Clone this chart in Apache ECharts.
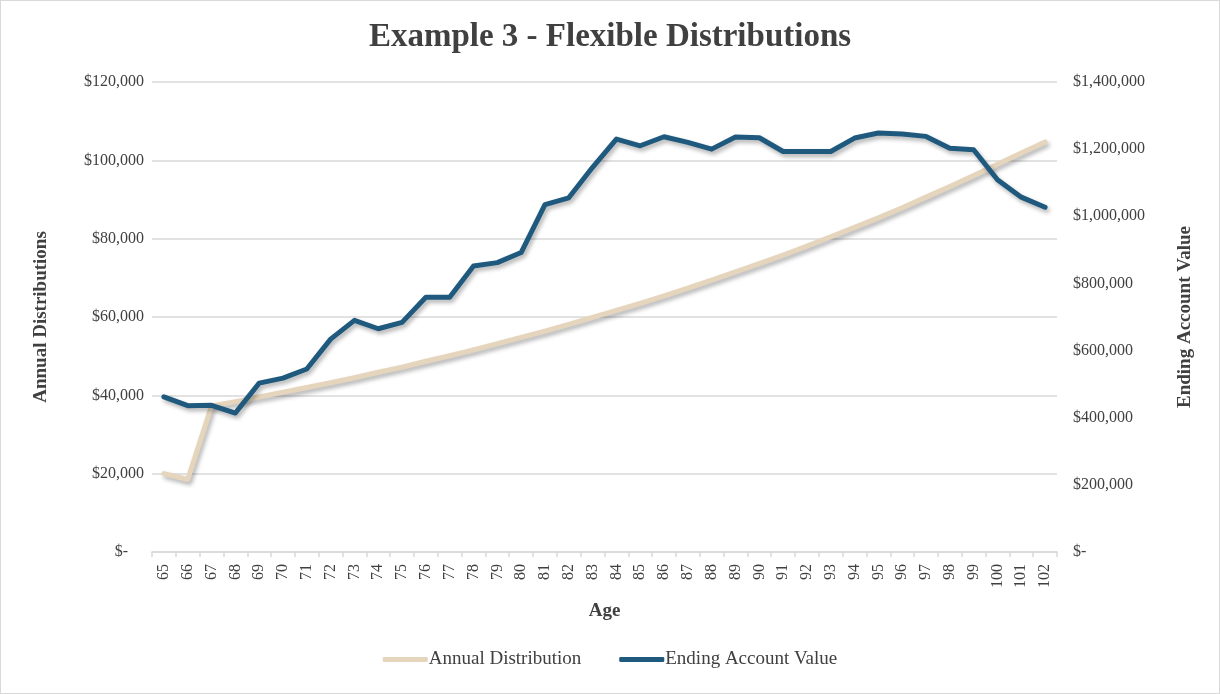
<!DOCTYPE html>
<html>
<head>
<meta charset="utf-8">
<script src="https://cdn.jsdelivr.net/npm/echarts@6/dist/echarts.min.js"></script>
<style>
html,body{margin:0;padding:0;background:#fff;}
#chart{width:1220px;height:694px;box-sizing:border-box;border:1px solid #d9d9d9;}
</style>
</head>
<body>
<div id="chart"></div>
<script>
const ages = ['65','66','67','68','69','70','71','72','73','74','75','76','77','78','79','80','81','82','83','84','85','86','87','88','89','90','91','92','93','94','95','96','97','98','99','100','101','102'];
const annualDistribution = [20000,18500,37300,38400,39600,40800,42000,43200,44500,45900,47200,48700,50100,51600,53200,54800,56400,58100,59900,61700,63500,65400,67400,69400,71500,73600,75800,78100,80500,82900,85300,87900,90600,93300,96100,99000,101900,104700];
const endingAccountValue = [462000,436000,437000,414000,503000,518000,545000,634000,690000,665000,684000,759000,759000,852000,862000,892000,1035000,1055000,1146000,1230000,1210000,1237000,1220000,1200000,1236000,1234000,1193000,1193000,1193000,1233000,1248000,1245000,1238000,1203000,1198000,1109000,1057000,1027000];
const leftTicks = [0,20000,40000,60000,80000,100000,120000];
const rightTicks = [0,200000,400000,600000,800000,1000000,1200000,1400000];

function money(v){ return v === 0 ? '$-    ' : '$' + v.toLocaleString('en-US'); }

const serif = '"Liberation Serif", "DejaVu Serif", serif';
const txt = '#404040';
const chart = echarts.init(document.getElementById('chart'));
chart.setOption({
  animation: false,
  title: {
    text: 'Example 3 - Flexible Distributions',
    left: 'center', top: 15,
    textStyle: {fontFamily: serif, fontSize: 33, fontWeight: 'bold', color: txt}
  },
  legend: {
    bottom: 19, left: 'center',
    itemWidth: 45, itemHeight: 5, itemGap: 38,
    icon: 'roundRect',
    textStyle: {fontFamily: serif, fontSize: 19, color: txt, padding: [0,0,0,-4]},
    data: ['Annual Distribution', 'Ending Account Value']
  },
  grid: {left: 151, right: 162, top: 81, bottom: 141, containLabel: false},
  xAxis: {
    type: 'category', data: ages, boundaryGap: true,
    name: 'Age', nameLocation: 'middle', nameGap: 50,
    nameTextStyle: {fontFamily: serif, fontSize: 19, fontWeight: 'bold', color: txt},
    axisLine: {lineStyle: {color: '#d9d9d9', width: 1.5}},
    axisTick: {show: true, alignWithLabel: false, length: 5, lineStyle: {color: '#d9d9d9', width: 1.5}},
    axisLabel: {rotate: 90, interval: 0, fontFamily: serif, fontSize: 16, color: txt, margin: 12}
  },
  yAxis: [{
    type: 'value', min: 0, max: 120000, interval: 20000,
    name: 'Annual Distributions', nameLocation: 'middle', nameGap: 101, nameRotate: 90,
    nameTextStyle: {fontFamily: serif, fontSize: 19, fontWeight: 'bold', color: txt},
    axisLine: {show: false}, axisTick: {show: false},
    axisLabel: {formatter: money, fontFamily: serif, fontSize: 16, color: txt, margin: 8},
    splitLine: {lineStyle: {color: '#d9d9d9', width: 1.5}}
  }, {
    type: 'value', min: 0, max: 1400000, interval: 200000, position: 'right',
    name: 'Ending Account Value', nameLocation: 'middle', nameGap: 119, nameRotate: 90,
    nameTextStyle: {fontFamily: serif, fontSize: 19, fontWeight: 'bold', color: txt},
    axisLine: {show: false}, axisTick: {show: false},
    axisLabel: {formatter: v => v === 0 ? '$-' : '$' + v.toLocaleString('en-US'), fontFamily: serif, fontSize: 16, color: txt, margin: 16},
    splitLine: {show: false}
  }],
  series: [{
    name: 'Annual Distribution', type: 'line', yAxisIndex: 0,
    data: annualDistribution, showSymbol: false, symbol: 'none',
    itemStyle: {color: '#E6D5BD'},
    lineStyle: {color: '#E6D5BD', width: 5, cap: 'round', join: 'round',
      shadowColor: 'rgba(0,0,0,0.3)', shadowBlur: 4, shadowOffsetX: 2, shadowOffsetY: 3}
  }, {
    name: 'Ending Account Value', type: 'line', yAxisIndex: 1,
    data: endingAccountValue, showSymbol: false, symbol: 'none',
    itemStyle: {color: '#1F5A7E'},
    lineStyle: {color: '#1F5A7E', width: 5, cap: 'round', join: 'round',
      shadowColor: 'rgba(0,0,0,0.3)', shadowBlur: 4, shadowOffsetX: 2, shadowOffsetY: 3}
  }]
});
</script>
</body>
</html>
